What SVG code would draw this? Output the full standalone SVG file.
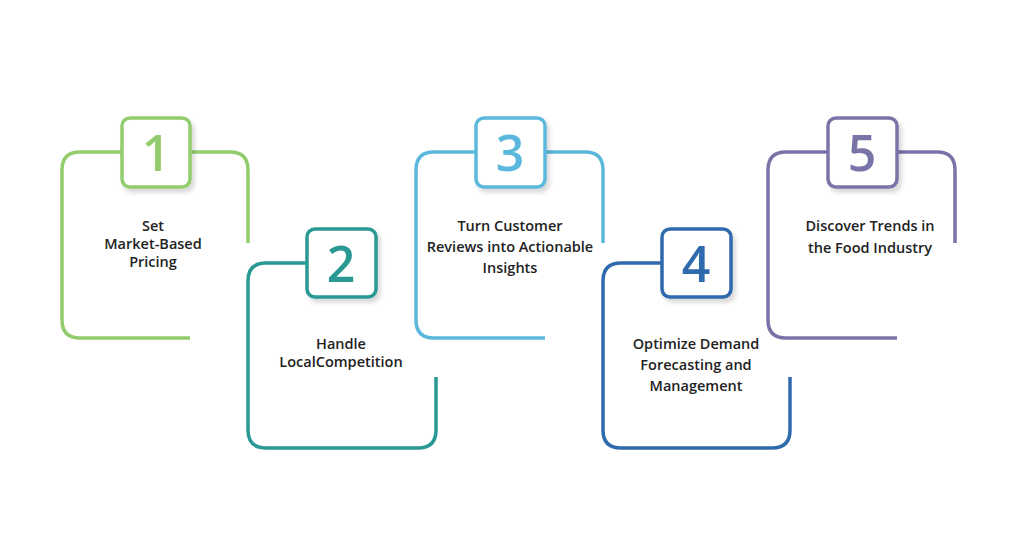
<svg xmlns="http://www.w3.org/2000/svg" width="1024" height="536" viewBox="0 0 1024 536">
<style>
.fr{fill:none;stroke-width:3.5;stroke-linecap:butt}
.bx{fill:#fff;stroke-width:3.5}
.num{font-family:"Open Sans","DejaVu Sans",sans-serif;font-size:50px;font-weight:600;text-anchor:middle}
.lb{font-family:"Open Sans","DejaVu Sans",sans-serif;font-size:14.5px;font-weight:600;fill:#222;text-anchor:middle}
</style>
<defs><filter id="sh" x="-20%" y="-20%" width="150%" height="150%"><feDropShadow dx="3" dy="4" stdDeviation="2" flood-color="#000" flood-opacity="0.15"/></filter></defs>
<rect width="1024" height="536" fill="#fff"/>
<g id="node1" stroke="#93cc6e">
<path class="fr" d="M122 152 H80 Q62 152 62 170 V320 Q62 338 80 338 H190 M190 152 H230 Q248 152 248 170 V243"/>
<rect class="bx" x="122" y="118" width="68" height="69" rx="8" filter="url(#sh)"/>
<text class="num" x="156" y="171" fill="#93cc6e" stroke="none">1</text>
<text class="lb" stroke="none" x="153" y="231">Set</text>
<text class="lb" stroke="none" x="153" y="249">Market-Based</text>
<text class="lb" stroke="none" x="153" y="267">Pricing</text>
</g>
<g id="node2" stroke="#2a9994">
<path class="fr" d="M307 263 H266 Q248 263 248 281 V430 Q248 448 266 448 H418 Q436 448 436 430 V377"/>
<rect class="bx" x="307" y="229" width="69" height="68" rx="8" filter="url(#sh)"/>
<text class="num" x="341" y="282" fill="#2a9994" stroke="none">2</text>
<text class="lb" stroke="none" x="341" y="349">Handle</text>
<text class="lb" stroke="none" x="341" y="367">LocalCompetition</text>
</g>
<g id="node3" stroke="#5bb8dc">
<path class="fr" d="M476 152 H434 Q416 152 416 170 V320 Q416 338 434 338 H545 M545 152 H585 Q603 152 603 170 V243"/>
<rect class="bx" x="476" y="118" width="69" height="69" rx="8" filter="url(#sh)"/>
<text class="num" x="510" y="171" fill="#5bb8dc" stroke="none">3</text>
<text class="lb" stroke="none" x="510" y="231">Turn Customer</text>
<text class="lb" stroke="none" x="510" y="252">Reviews into Actionable</text>
<text class="lb" stroke="none" x="510" y="273">Insights</text>
</g>
<g id="node4" stroke="#2f6aad">
<path class="fr" d="M662 263 H621 Q603 263 603 281 V430 Q603 448 621 448 H772 Q790 448 790 430 V377"/>
<rect class="bx" x="662" y="229" width="69" height="68" rx="8" filter="url(#sh)"/>
<text class="num" x="696" y="282" fill="#2f6aad" stroke="none">4</text>
<text class="lb" stroke="none" x="696" y="349">Optimize Demand</text>
<text class="lb" stroke="none" x="696" y="370">Forecasting and</text>
<text class="lb" stroke="none" x="696" y="391">Management</text>
</g>
<g id="node5" stroke="#7974a8">
<path class="fr" d="M828 152 H786 Q768 152 768 170 V320 Q768 338 786 338 H897 M897 152 H937 Q955 152 955 170 V243"/>
<rect class="bx" x="828" y="118" width="69" height="69" rx="8" filter="url(#sh)"/>
<text class="num" x="862" y="171" fill="#7974a8" stroke="none">5</text>
<text class="lb" stroke="none" x="870" y="231">Discover Trends in</text>
<text class="lb" stroke="none" x="870" y="253">the Food Industry</text>
</g>
<g id="connectors"></g>
</svg>
